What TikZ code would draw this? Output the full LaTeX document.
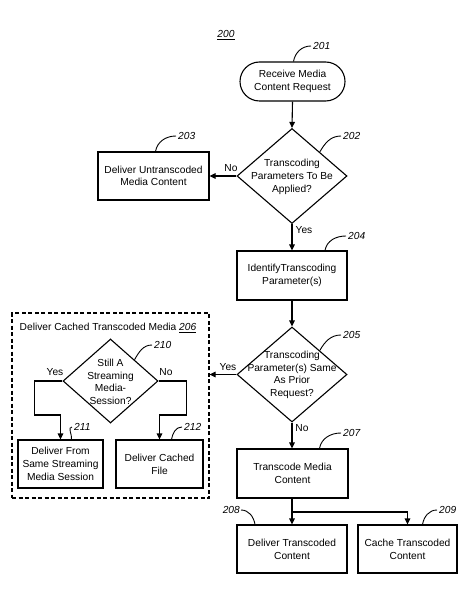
\documentclass[tikz,border=0pt]{standalone}
\usepackage{fontspec}
\setmainfont{Liberation Sans}
\usetikzlibrary{arrows.meta,shapes.geometric}
\begin{document}
\begin{tikzpicture}[x=1pt,y=-1pt,
  font=\fontsize{10.2}{12.7}\selectfont,
  every node/.style={inner sep=0pt,align=center},
  box/.style={draw,line width=1.1pt,rectangle},
  dia/.style={draw,line width=1.1pt,diamond},
  num/.style={font=\fontsize{10.2}{12.7}\selectfont\itshape},
  arr/.style={line width=1.1pt,-{Triangle[length=6pt,width=5.5pt]}},
  ln/.style={line width=1.1pt},
  lead/.style={line width=0.9pt}
]
\useasboundingbox (0,0) rectangle (474,609);

\node[num] (t200) at (226,35) {\underline{200}};

% 201
\node[box,rounded corners=19.5pt,minimum width=105pt,minimum height=39pt] (n201) at (292.5,81.5) {Receive Media\\Content Request};
\node[num,anchor=west] (l201) at (313,46) {201};
\draw[lead] ([xshift=1pt]n201.north) to[out=80,in=180] ([xshift=-2pt]l201.west);

% 202
\node[dia,minimum width=110pt,minimum height=95pt] (n202) at (292,176) {};
\node (t202) at (292,177) {Transcoding\\Parameters To Be\\Applied?};
\node[num,anchor=west] (l202) at (343,136) {202};
\draw[lead] (n202.north east) to[out=60,in=180] ([xshift=-2pt]l202.west);

% 203
\node[box,minimum width=111pt,minimum height=48pt] (n203) at (153.5,176) {Deliver Untranscoded\\Media Content};
\node[num,anchor=west] (l203) at (178,136) {203};
\draw[lead] ([xshift=2pt]n203.north) to[out=80,in=180] ([xshift=-2pt]l203.west);
\draw[arr] (n202.west) -- (n203.east);
\node (no202) at (231,168) {No};

% 204
\node[box,minimum width=110pt,minimum height=49pt] (n204) at (292,275.5) {IdentifyTranscoding\\Parameter(s)};
\node[num,anchor=west] (l204) at (348,236) {204};
\draw[lead] ([xshift=33pt]n204.north) to[out=80,in=180] ([xshift=-2pt]l204.west);
\draw[arr] (n201.south) -- (n202.north);
\draw[arr] (n202.south) -- (n204.north);
\node (yes202) at (304,230) {Yes};

% 205
\node[dia,minimum width=110pt,minimum height=95pt] (n205) at (292,374.5) {};
\node (t205) at (292,375) {Transcoding\\Parameter(s) Same\\As Prior\\Request?};
\node[num,anchor=west] (l205) at (343,335) {205};
\draw[lead] (n205.north east) to[out=60,in=180] ([xshift=-2pt]l205.west);
\draw[arr] (n204.south) -- (n205.north);

% 206 dashed group
\node[draw,line width=1.1pt,dash pattern=on 4pt off 2.5pt,minimum width=197pt,minimum height=185pt] (n206) at (110.5,405.5) {};
\node (t206) at (108,328) {Deliver Cached Transcoded Media \underline{\itshape 206}};
\draw[arr] (n205.west) -- (n205.west -| n206.east);
\node (yes205) at (228,367) {Yes};

% 210
\node[dia,minimum width=95pt,minimum height=84pt] (n210) at (110.5,381) {};
\node (t210) at (110.5,382) {Still A\\Streaming\\Media-\\Session?};
\node[num,anchor=west] (l210) at (154,345) {210};
\draw[lead] (n210.north east) to[out=60,in=180] ([xshift=-2pt]l210.west);
\node (yes210) at (55,372) {Yes};
\node (no210) at (166,372) {No};

% 211, 212
\node[box,minimum width=85pt,minimum height=48pt] (n211) at (60.5,464) {Deliver From\\Same Streaming\\Media Session};
\node[num,anchor=west] (l211) at (74,427) {211};
\draw[lead] ([xshift=11pt]n211.north) to[out=80,in=180] ([xshift=-2pt]l211.west);
\node[box,minimum width=87pt,minimum height=48pt] (n212) at (159.5,464) {Deliver Cached\\File};
\node[num,anchor=west] (l212) at (184,427) {212};
\draw[lead] ([xshift=12pt]n212.north) to[out=80,in=180] ([xshift=-2pt]l212.west);
\draw[arr] (n210.west) -| ++(-28,34) -| (n211.north);
\draw[arr] (n210.east) -| ++(28,34) -| (n212.north);

% 207
\node[box,minimum width=111pt,minimum height=49pt] (n207) at (292.5,473.5) {Transcode Media\\Content};
\node[num,anchor=west] (l207) at (343,433) {207};
\draw[lead] ([xshift=27pt]n207.north) to[out=80,in=180] ([xshift=-2pt]l207.west);
\draw[arr] (n205.south) -- (n207.north -| n205.south);
\node (no205) at (302,428) {No};

% 208, 209
\node[box,minimum width=110pt,minimum height=48pt] (n208) at (292,549) {Deliver Transcoded\\Content};
\node[num,anchor=east] (l208) at (240,510) {208};
\draw[lead] ([xshift=1pt]l208.east) to[out=0,in=100] ([xshift=-37pt]n208.north);
\node[box,minimum width=99pt,minimum height=48pt] (n209) at (407.5,549) {Cache Transcoded\\Content};
\node[num,anchor=west] (l209) at (439,510) {209};
\draw[lead] ([xshift=15pt]n209.north) to[out=80,in=180] ([xshift=-2pt]l209.west);
\coordinate (split) at (292,512);
\draw[arr] (n207.south -| n208.north) -- (n208.north);
\draw[arr] (split) -| (n209.north);
\end{tikzpicture}
\end{document}
